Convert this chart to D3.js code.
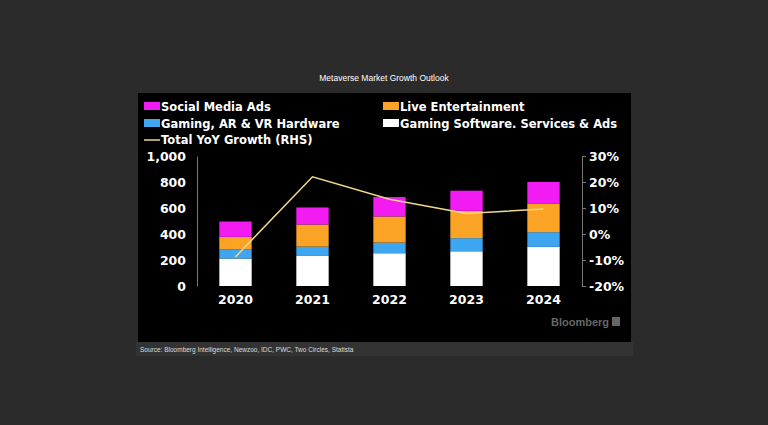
<!DOCTYPE html>
<html><head><meta charset="utf-8">
<script src="https://cdn.jsdelivr.net/npm/d3@7"></script>
<style>body{margin:0;background:#2b2b2b}</style></head>
<body><svg id="c" width="768" height="425"></svg>
<script>
const years=["2020","2021","2022","2023","2024"];
const gamingSoftware=[211,231,252,267,301];
const hardware=[69,72,82,101,113];
const liveEnt=[98,170,201,210,221];
const socialAds=[118,131,149,155,165];
const growth=[-8.8,22,13.4,7.9,9.6];
const leftTicks=[0,200,400,600,800,1000];
const rightTicks=[-20,-10,0,10,20,30];
const seriesNames=["Gaming Software. Services & Ads","Gaming, AR & VR Hardware","Live Entertainment","Social Media Ads"];
const colors=["#ffffff","#3ea6f0","#fba325","#f21cf2"];

const svg=d3.select("#c");
svg.append("rect").attr("width",768).attr("height",425).attr("fill","#2b2b2b");
svg.append("text").attr("x",384).attr("y",81).attr("text-anchor","middle").attr("fill","#fff")
 .attr("font-family","Liberation Sans, Arial").attr("font-size",8.5).text("Metaverse Market Growth Outlook");
svg.append("rect").attr("x",138).attr("y",93).attr("width",493).attr("height",249).attr("fill","#000");
svg.append("rect").attr("x",136).attr("y",342).attr("width",497).attr("height",14).attr("fill","#333");
svg.append("text").attr("x",140).attr("y",352).attr("fill","#ddd").attr("font-family","Liberation Sans, Arial")
 .attr("font-size",6.5).text("Source: Bloomberg Intelligence, Newzoo, IDC, PWC, Two Circles, Statista");

const x=d3.scaleBand().domain(years).range([197,582]).paddingInner(0.58).paddingOuter(0.29);
const y=d3.scaleLinear().domain([0,1000]).range([286,156]);
const y2=d3.scaleLinear().domain([-20,30]).range([286,156]);
const F="DejaVu Sans, Verdana";

const data=years.map((yr,i)=>({yr,v:[gamingSoftware[i],hardware[i],liveEnt[i],socialAds[i]]}));
data.forEach(d=>{let c=0;d.v.forEach((v,k)=>{
 svg.append("rect").attr("x",x(d.yr)).attr("width",x.bandwidth()).attr("y",y(c+v)).attr("height",y(c)-y(c+v)).attr("fill",colors[k]);c+=v;});});

const line=d3.line().x((d,i)=>x(years[i])+x.bandwidth()/2).y(d=>y2(d));
svg.append("path").attr("d",line(growth)).attr("fill","none").attr("stroke","#f2d98a").attr("stroke-width",1.5);

const la=svg.append("g").attr("transform","translate(197,0)").call(d3.axisLeft(y).tickValues(leftTicks).tickSize(0).tickPadding(11).tickFormat(d3.format(",")));
const ra=svg.append("g").attr("transform","translate(582,0)").call(d3.axisRight(y2).tickValues(rightTicks).tickSize(4).tickPadding(3).tickFormat(d=>d+"%"));
const xa=svg.append("g").attr("transform","translate(0,286)").call(d3.axisBottom(x).tickSize(0).tickPadding(9));
[la,ra,xa].forEach(a=>{a.selectAll("text").attr("fill","#fff").attr("font-family",F).attr("font-weight","bold").attr("font-size",12.5);
 a.selectAll("path,line").attr("stroke","#777");});
xa.select("path").remove();

const leg=[[3,144,107],[2,383,107],[1,144,124],[0,383,124]];
leg.forEach(([k,lx,ly])=>{
 svg.append("rect").attr("x",lx).attr("y",ly-5).attr("width",16).attr("height",8).attr("fill",colors[k]);
 svg.append("text").attr("x",lx+17).attr("y",ly+4).attr("fill","#fff").attr("font-family",F).attr("font-weight","bold").attr("font-size",11.5).text(seriesNames[k]);});
svg.append("line").attr("x1",144).attr("x2",160).attr("y1",140).attr("y2",140).attr("stroke","#f2d98a").attr("stroke-width",1.5);
svg.append("text").attr("x",161).attr("y",144).attr("fill","#fff").attr("font-family",F).attr("font-weight","bold").attr("font-size",11.5).text("Total YoY Growth (RHS)");
svg.append("text").attr("x",609).attr("y",326).attr("text-anchor","end").attr("fill","#666").attr("font-family","Liberation Sans, Arial").attr("font-weight","bold").attr("font-size",11).text("Bloomberg");
svg.append("rect").attr("x",612).attr("y",317).attr("width",8).attr("height",9).attr("fill","#666");
</script></body></html>
